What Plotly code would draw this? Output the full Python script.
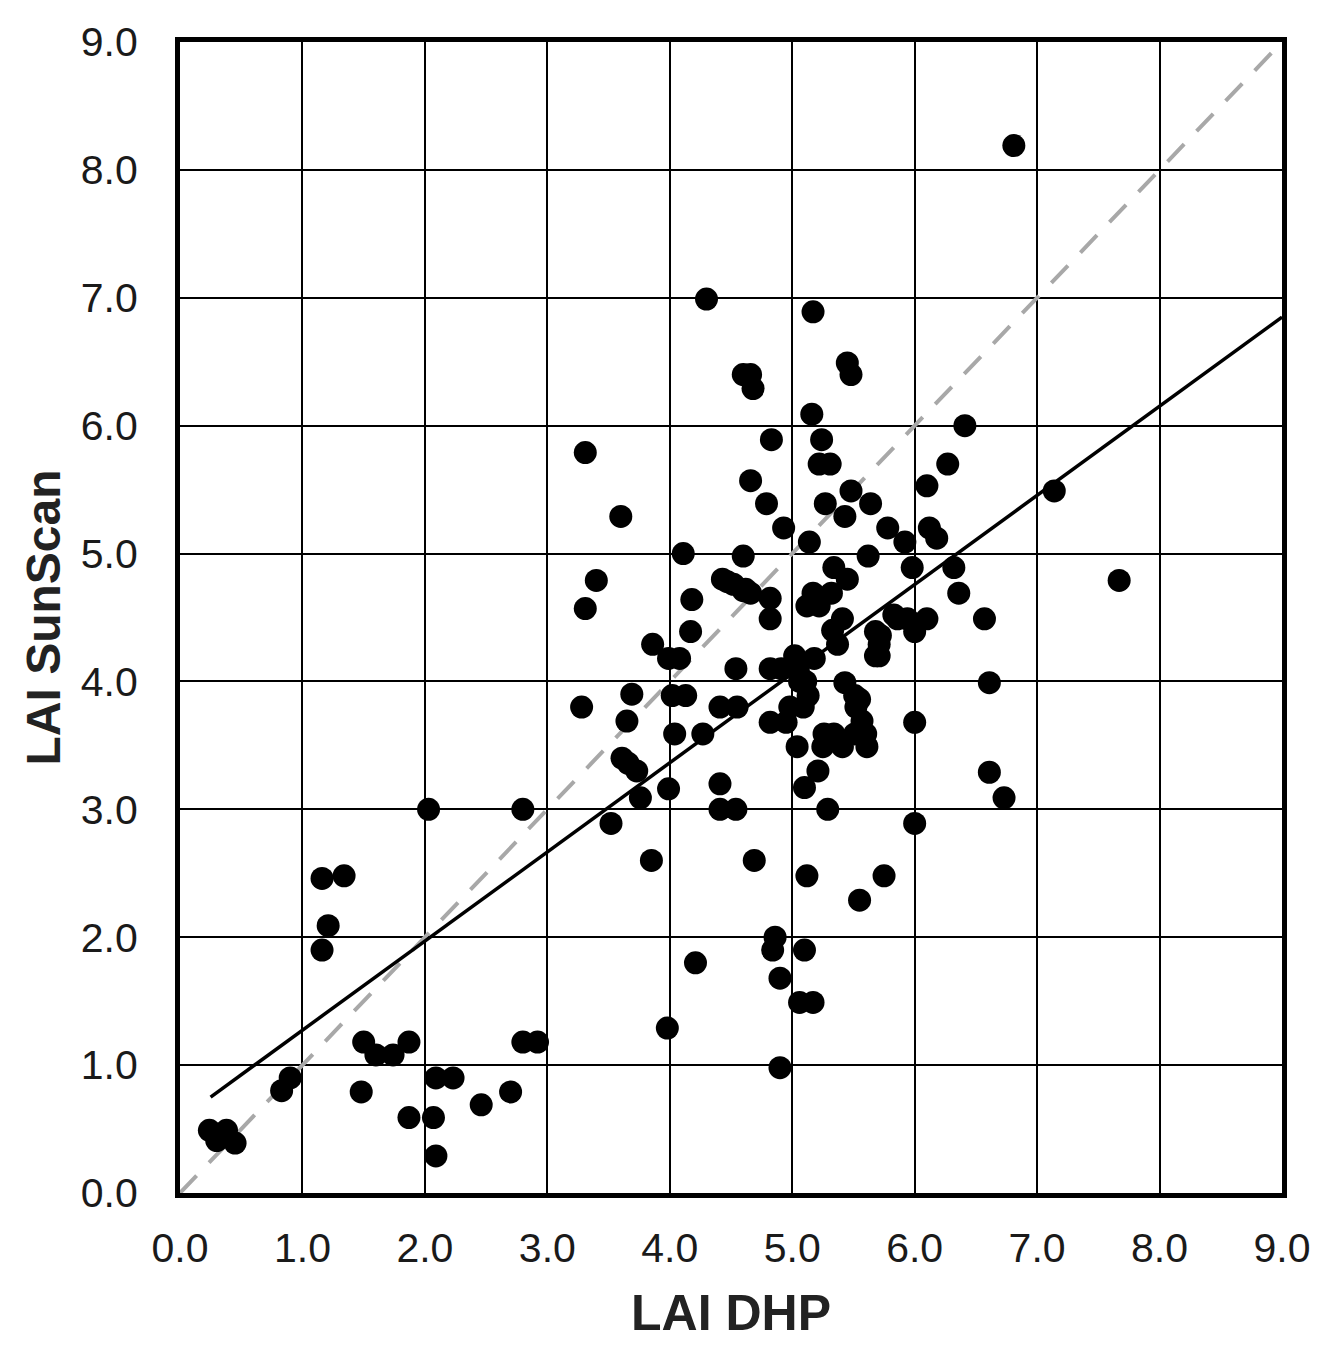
import numpy as np
import plotly.graph_objects as go

# LAI from hemispherical photos (DHP) vs SunScan
lai_dhp = [
    0.24, 0.30, 0.38, 0.45, 0.83, 0.90, 1.16, 1.21, 1.16, 1.34,
    1.48, 1.50, 1.60, 1.74, 1.87, 1.87, 2.03, 2.09, 2.07, 2.09,
    2.23, 2.46, 2.70, 2.80, 2.80, 2.92,
    3.31, 3.31, 3.28, 3.40, 3.60, 3.52, 3.61, 3.65, 3.69, 3.73,
    3.76, 3.85, 3.86, 3.98, 3.99, 3.99, 4.02, 4.04, 4.08, 4.11,
    4.13, 4.18, 4.17, 4.21, 4.27, 4.30, 4.41, 4.41, 4.43, 4.41,
    4.52, 4.54, 4.54, 4.55, 4.60, 4.66, 4.68, 4.60, 4.60, 4.66,
    4.69, 4.66, 4.82, 4.82, 4.83, 4.79, 4.82, 4.82, 4.84, 4.86,
    4.90, 4.90, 4.91, 4.93, 4.95, 4.98, 5.02, 5.02, 5.04, 5.06,
    5.06, 5.09, 5.10, 5.11, 5.10, 5.12, 5.12, 5.14, 5.13, 5.16,
    5.17, 5.17, 5.18, 5.17, 5.21, 5.22, 5.24, 5.22, 5.25, 5.26,
    5.27, 5.29, 5.31, 5.32, 5.34, 5.34, 5.37, 5.41, 5.41, 5.43,
    5.43, 5.45, 5.45, 5.48, 5.48, 5.51, 5.51, 5.52, 5.55, 5.57,
    5.60, 5.61, 5.64, 5.62, 5.68, 5.68, 5.71, 5.71, 5.75, 5.78,
    5.86, 5.92, 5.94, 5.98, 6.00, 6.00, 6.00, 6.10, 6.10, 6.12,
    6.18, 6.27, 6.32, 6.36, 6.41, 6.57, 6.61, 6.61, 6.73, 6.81,
    7.14, 7.67, 5.05, 4.47, 5.55, 5.33, 3.66, 4.62, 5.72, 5.83,
]
lai_sunscan = [
    0.49, 0.41, 0.49, 0.39, 0.80, 0.90, 2.46, 2.09, 1.90, 2.48,
    0.79, 1.18, 1.08, 1.08, 1.18, 0.59, 3.00, 0.90, 0.59, 0.29,
    0.90, 0.69, 0.79, 3.00, 1.18, 1.18,
    5.79, 4.57, 3.80, 4.79, 5.29, 2.89, 3.40, 3.69, 3.90, 3.30,
    3.09, 2.60, 4.29, 1.29, 3.16, 4.18, 3.89, 3.59, 4.18, 5.00,
    3.89, 4.64, 4.39, 1.80, 3.59, 6.99, 3.80, 3.20, 4.80, 3.00,
    4.76, 3.00, 4.10, 3.80, 6.40, 6.40, 6.29, 4.98, 4.71, 5.57,
    2.60, 4.69, 3.68, 4.10, 5.89, 5.39, 4.65, 4.49, 1.90, 2.00,
    1.68, 0.98, 4.10, 5.20, 3.68, 3.80, 4.10, 4.20, 3.49, 4.00,
    1.49, 3.80, 1.90, 4.00, 3.17, 2.48, 4.59, 5.09, 3.89, 6.09,
    1.49, 6.89, 4.18, 4.69, 3.30, 4.59, 5.89, 5.70, 3.49, 3.59,
    5.39, 3.00, 5.70, 4.69, 4.89, 3.59, 4.29, 3.49, 4.49, 5.29,
    3.99, 6.49, 4.80, 6.40, 5.49, 3.59, 3.89, 3.80, 2.29, 3.69,
    3.59, 3.49, 5.39, 4.98, 4.39, 4.20, 4.29, 4.20, 2.48, 5.20,
    4.49, 5.09, 4.49, 4.89, 2.89, 3.68, 4.39, 4.49, 5.53, 5.20,
    5.12, 5.70, 4.89, 4.69, 6.00, 4.49, 3.99, 3.29, 3.09, 8.19,
    5.49, 4.79, 4.08, 4.78, 3.86, 4.40, 3.36, 4.72, 4.36, 4.52,
]

# fitted regression
fit_slope = 0.697
fit_intercept = 0.576
fit_x = [0.25, 9.0]
one_to_one = [0.0, 9.0]

tick_vals = [0, 1, 2, 3, 4, 5, 6, 7, 8, 9]
tick_text = ['0.0', '1.0', '2.0', '3.0', '4.0', '5.0', '6.0', '7.0', '8.0', '9.0']

fig = go.Figure()

# 1:1 line
fig.add_trace(go.Scatter(
    x=one_to_one, y=one_to_one, mode='lines',
    line=dict(color='#a8a8a8', width=4, dash='24px,18px'),
    showlegend=False, hoverinfo='skip'
))

fig.add_trace(go.Scatter(
    x=lai_dhp, y=lai_sunscan, mode='markers',
    marker=dict(color='black', size=23, line=dict(width=0)),
    showlegend=False
))

fit_y = [fit_slope * v + fit_intercept for v in fit_x]
fig.add_trace(go.Scatter(
    x=fit_x, y=fit_y, mode='lines',
    line=dict(color='black', width=3.5),
    showlegend=False, hoverinfo='skip'
))

axis_common = dict(
    range=[0, 9], tickvals=tick_vals, ticktext=tick_text,
    showgrid=True, gridcolor='black', gridwidth=2.2,
    zeroline=False, showline=True, linecolor='black', linewidth=5,
    mirror=True, ticks='',
    tickfont=dict(family='Liberation Sans, Arial', size=41, color='#1a1a1a'),
)

fig.update_xaxes(
    title=dict(text='<b>LAI DHP</b>', standoff=26,
               font=dict(family='Liberation Sans, Arial', size=50, color='#222222')),
    ticklabelstandoff=15,
    **axis_common
)
fig.update_yaxes(
    title=dict(text='<b>LAI SunScan</b>', standoff=6,
               font=dict(family='Liberation Sans, Arial', size=48, color='#222222')),
    ticklabelstandoff=29,
    **axis_common
)

fig.update_layout(
    width=1323, height=1349,
    margin=dict(l=172, r=49, t=34, b=164),
    plot_bgcolor='white', paper_bgcolor='white',
)

fig.write_html("out.html")
